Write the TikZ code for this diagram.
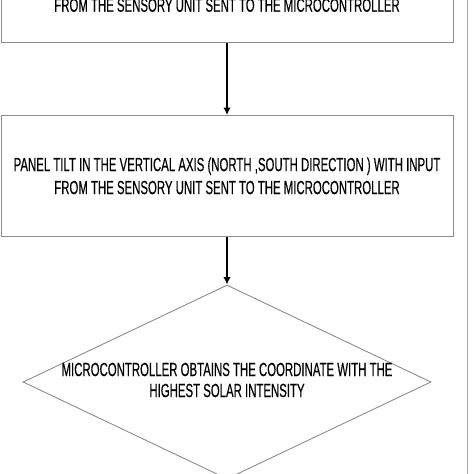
\documentclass[tikz,border=0pt]{standalone}
\usepackage{fontspec}
\usetikzlibrary{shapes.geometric,arrows.meta}
\newfontfamily\flowfont{Liberation Sans}[FakeStretch=0.6, FakeBold=0.35]
\definecolor{edge}{RGB}{140,140,140}
\definecolor{rim}{RGB}{165,165,165}

\begin{document}
\begin{tikzpicture}[x=1pt, y=-1pt,
        stepbox/.style={draw=edge, line width=0.9pt, rectangle, minimum width=452pt, inner sep=0pt,
            align=center, font=\flowfont\fontsize{19}{23}\selectfont},
        decision/.style={draw=edge, line width=0.9pt, diamond, minimum width=408pt, minimum height=194pt, inner sep=0pt},
        flow/.style={line width=1.7pt, -{Latex[length=7.5pt,width=7.5pt]}}
    ]

        \useasboundingbox (0,0) rectangle (474,474);  %Bildausschnitt

        \node[stepbox, minimum height=75pt] (horiz) at (227,5.2)
            {FROM THE SENSORY UNIT SENT TO THE MICROCONTROLLER};  %oberer Kasten, nur halb sichtbar
        \node[stepbox, minimum height=120.5pt] (vert) at (227,175.8)
            {PANEL TILT IN THE VERTICAL AXIS (NORTH ,SOUTH DIRECTION ) WITH INPUT\\FROM THE SENSORY UNIT SENT TO THE MICROCONTROLLER};  %zweiter Kasten

        \node[decision] (obtain) at (227,382) {};  %Raute
        \node[align=center, inner sep=0pt, font=\flowfont\fontsize{19}{21}\selectfont] (obtaintext) at (227,380)
            {MICROCONTROLLER OBTAINS THE COORDINATE WITH THE\\HIGHEST SOLAR INTENSITY};  %Text der Raute

        \draw[flow] (horiz.south) -- (vert.north);
        \draw[flow] (vert.south) -- (obtain.north);

        \coordinate (rimtop) at (467,0);
        \coordinate (rimbot) at (467,474);
        \draw[rim, line width=0.8pt] (rimtop) -- (rimbot);  %Rand rechts

    \end{tikzpicture}
\end{document}
